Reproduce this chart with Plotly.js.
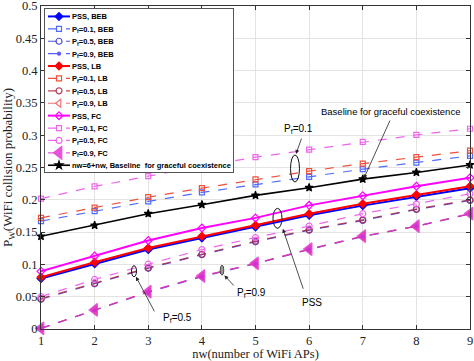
<!DOCTYPE html>
<html><head><meta charset="utf-8">
<script src="https://cdn.plot.ly/plotly-3.0.1.min.js"></script>
<style>html,body{margin:0;padding:0;background:#fff}#chart{width:474px;height:361px}</style>
</head><body><div id="chart"></div>
<script>
var nw = [1,2,3,4,5,6,7,8,9];
var pssBEB = [0.078,0.101,0.123,0.141,0.158,0.176,0.191,0.205,0.218];
var pssLB  = [0.080,0.1034,0.1255,0.1435,0.1605,0.1785,0.194,0.208,0.221];
var pssFC  = [0.0895,0.113,0.137,0.1564,0.172,0.1914,0.2063,0.221,0.234];
var pf01BEB = [0.167,0.1826,0.1975,0.2114,0.224,0.2356,0.2474,0.2577,0.268];
var pf01LB  = [0.172,0.188,0.204,0.218,0.2315,0.2443,0.256,0.266,0.276];
var pf01FC  = [0.2017,0.2207,0.2366,0.252,0.266,0.2778,0.2896,0.3004,0.310];
var pf05BEB = [0.046,0.070,0.094,0.115,0.135,0.153,0.168,0.185,0.199];
var pf05LB  = [0.047,0.0705,0.095,0.1157,0.136,0.1538,0.169,0.1857,0.200];
var pf05FC  = [0.050,0.0767,0.1003,0.123,0.1415,0.1594,0.1785,0.1934,0.2094];
var pf09BEB = [0.001,0.029,0.057,0.081,0.101,0.123,0.143,0.159,0.178];
var pf09LB  = [0.001,0.0293,0.0576,0.0818,0.1014,0.1235,0.1435,0.159,0.1785];
var pf09FC  = [0.001,0.0295,0.0578,0.082,0.1016,0.1237,0.1437,0.1592,0.1787];
var baseline = [0.1435,0.1605,0.1785,0.1924,0.2068,0.2187,0.232,0.2423,0.254];
var yTicks = [0,0.05,0.1,0.15,0.2,0.25,0.3,0.35,0.4,0.45,0.5];
var yTickText = ['0','0.05','0.1','0.15','0.2','0.25','0.3','0.35','0.4','0.45','0.5'];
var xTicks = [1,2,3,4,5,6,7,8,9];
var names = ['PSS, BEB','P<sub>f</sub>=0.1, BEB','P<sub>f</sub>=0.5, BEB','P<sub>f</sub>=0.9, BEB',
  'PSS, LB','P<sub>f</sub>=0.1, LB','P<sub>f</sub>=0.5, LB','P<sub>f</sub>=0.9, LB',
  'PSS, FC','P<sub>f</sub>=0.1, FC','P<sub>f</sub>=0.5, FC','P<sub>f</sub>=0.9, FC',
  'nw=6+nw, Baseline  for graceful coexistence'];

function tr(y, name, color, dash, w, sym, size, opts){
  var t = {x: nw, y: y, name: name, type:'scatter', mode:'lines+markers', cliponaxis:false,
    line:{color:color, width:w, dash:dash},
    marker:{symbol:sym, size:size, color:color, line:{color:color, width:1.2}}};
  if (opts) for (var k in opts) t[k]=opts[k];
  return t;
}
var blue='#0000ff', red='#ff0000', mag='#ff00ff';
var lblue='#4f6bff', lred='#f0503c', lmag='#ee66ee';
var traces = [
  tr(pssBEB, names[0], blue, 'solid', 2, 'diamond', 6),
  tr(pf01BEB, names[1], lblue, 'dash', 1.2, 'square-open', 5),
  tr(pf05BEB, names[2], '#5050e0', 'dash', 1.2, 'circle-open', 6),
  tr(pf09BEB, names[3], '#5a5aff', 'dash', 1.2, 'circle', 3),
  tr(pssLB, names[4], red, 'solid', 2, 'diamond', 6),
  tr(pf01LB, names[5], lred, 'dash', 1.2, 'square-open', 5),
  tr(pf05LB, names[6], '#b02840', 'dash', 1.2, 'circle-open', 6, {opacity:0.85}),
  tr(pf09LB, names[7], '#e04040', 'dash', 1.2, 'triangle-left-open', 7, {opacity:0.7}),
  tr(pssFC, names[8], mag, 'solid', 2, 'diamond-open', 6),
  tr(pf01FC, names[9], lmag, 'dash', 1.2, 'square-open', 5),
  tr(pf05FC, names[10], lmag, 'dash', 1.2, 'circle-open', 6),
  tr(pf09FC, names[11], '#e02ad0', 'dash', 1.2, 'triangle-left', 11, {opacity:0.8}),
  tr(baseline, names[12], '#000000', 'solid', 1.6, 'star', 6)
];

var serif = 'Liberation Serif, Times New Roman, serif';
var sans = 'Liberation Sans, Arial, sans-serif';
var black = '#000';
function arrow(x, y, ax, ay){
  return {x:x, y:y, ax:ax, ay:ay, xref:'x', yref:'y', axref:'x', ayref:'y', text:'',
    showarrow:true, arrowhead:2, arrowsize:1, arrowwidth:0.8, arrowcolor:'#222'};
}
function label(x, y, txt, size){
  return {x:x, y:y, xref:'x', yref:'y', text:txt, showarrow:false,
    font:{family:sans, size:size||9.5, color:black}};
}
var annotations = [
  label(7.51, 0.336, 'Baseline for graceful coexistence', 9.5),
  arrow(7.02, 0.233, 7.52, 0.325),
  label(5.80, 0.310, 'P<sub>f</sub>=0.1', 10),
  arrow(5.755, 0.271, 5.867, 0.297),
  label(6.05, 0.041, 'PSS', 10),
  arrow(5.51, 0.155, 5.90, 0.060),
  label(3.55, 0.017, 'P<sub>f</sub>=0.5', 10),
  arrow(2.77, 0.081, 3.13, 0.025),
  label(4.93, 0.055, 'P<sub>f</sub>=0.9', 10),
  arrow(4.42, 0.083, 4.62, 0.065)
];
var shapes = [
  {type:'circle', xref:'x', yref:'y', x0:5.653, x1:5.82, y0:0.2276, y1:0.2693, line:{color:'#111', width:1}},
  {type:'circle', xref:'x', yref:'y', x0:5.326, x1:5.494, y0:0.1559, y1:0.1867, line:{color:'#111', width:1}},
  {type:'circle', xref:'x', yref:'y', x0:2.688, x1:2.781, y0:0.081, y1:0.098, line:{color:'#111', width:1}},
  {type:'circle', xref:'x', yref:'y', x0:4.342, x1:4.409, y0:0.0833, y1:0.0988, fillcolor:'#999', line:{color:'#333', width:0.8}}
];
var axisCommon = {showgrid:true, gridcolor:'#e3e3e3', gridwidth:1, zeroline:false,
  showline:true, linecolor:'#333', linewidth:1, mirror:'ticks', ticks:'inside', ticklen:4,
  tickcolor:'#333', ticklabeloverflow:'allow', tickfont:{family:serif, size:12.5, color:'#222'}};
var layout = {
  width:474, height:361,
  margin:{l:41, r:4, t:6, b:32},
  paper_bgcolor:'#fff', plot_bgcolor:'#fff',
  showlegend:true,
  legend:{x:0.007, y:0.994, xanchor:'left', yanchor:'top', bgcolor:'#fff',
    bordercolor:'#555', borderwidth:1, font:{family:sans, size:7.5, color:black, weight:'bold'},
    tracegroupgap:0},
  xaxis: Object.assign({}, axisCommon, {range:[1,9], tickmode:'array', tickvals:xTicks,
    title:{text:'nw(number of WiFi APs)', font:{family:serif, size:12.5, color:'#222'}, standoff:0}}),
  yaxis: Object.assign({}, axisCommon, {range:[0,0.5], tickmode:'array', tickvals:yTicks, ticktext:yTickText,
    title:{text:'P<sub>W</sub>(WiFi collision probability)', font:{family:serif, size:13, color:'#222'}, standoff:4}}),
  annotations: annotations,
  shapes: shapes
};
Plotly.newPlot('chart', traces, layout, {staticPlot:true, displayModeBar:false}).then(function(gd){
  var items = gd.querySelectorAll('.legend .traces');
  if (!items.length) return;
  var step = 12.4;
  var first = items[0].getAttribute('transform');
  var m = /translate\(\s*([-\d.]+)[ ,]+([-\d.]+)/.exec(first);
  var x0 = m ? parseFloat(m[1]) : 1, y0 = 8.5;
  items.forEach(function(g, i){
    g.setAttribute('transform', 'translate(' + x0 + ',' + (y0 + i*step) + ')');
    g.querySelectorAll('.legendlines path').forEach(function(p){ p.setAttribute('d', 'M3,0h22'); });
    g.querySelectorAll('.legendpoints path').forEach(function(p){ p.setAttribute('transform', 'translate(14,0)'); });
    var t = g.querySelector('text.legendtext'); if (t) t.setAttribute('x', 27);
  });
  var bg = gd.querySelector('.legend rect.bg');
  if (bg) { bg.setAttribute('height', y0 + (items.length-1)*step + 7); bg.setAttribute('width', 189); }
});
</script></body></html>
